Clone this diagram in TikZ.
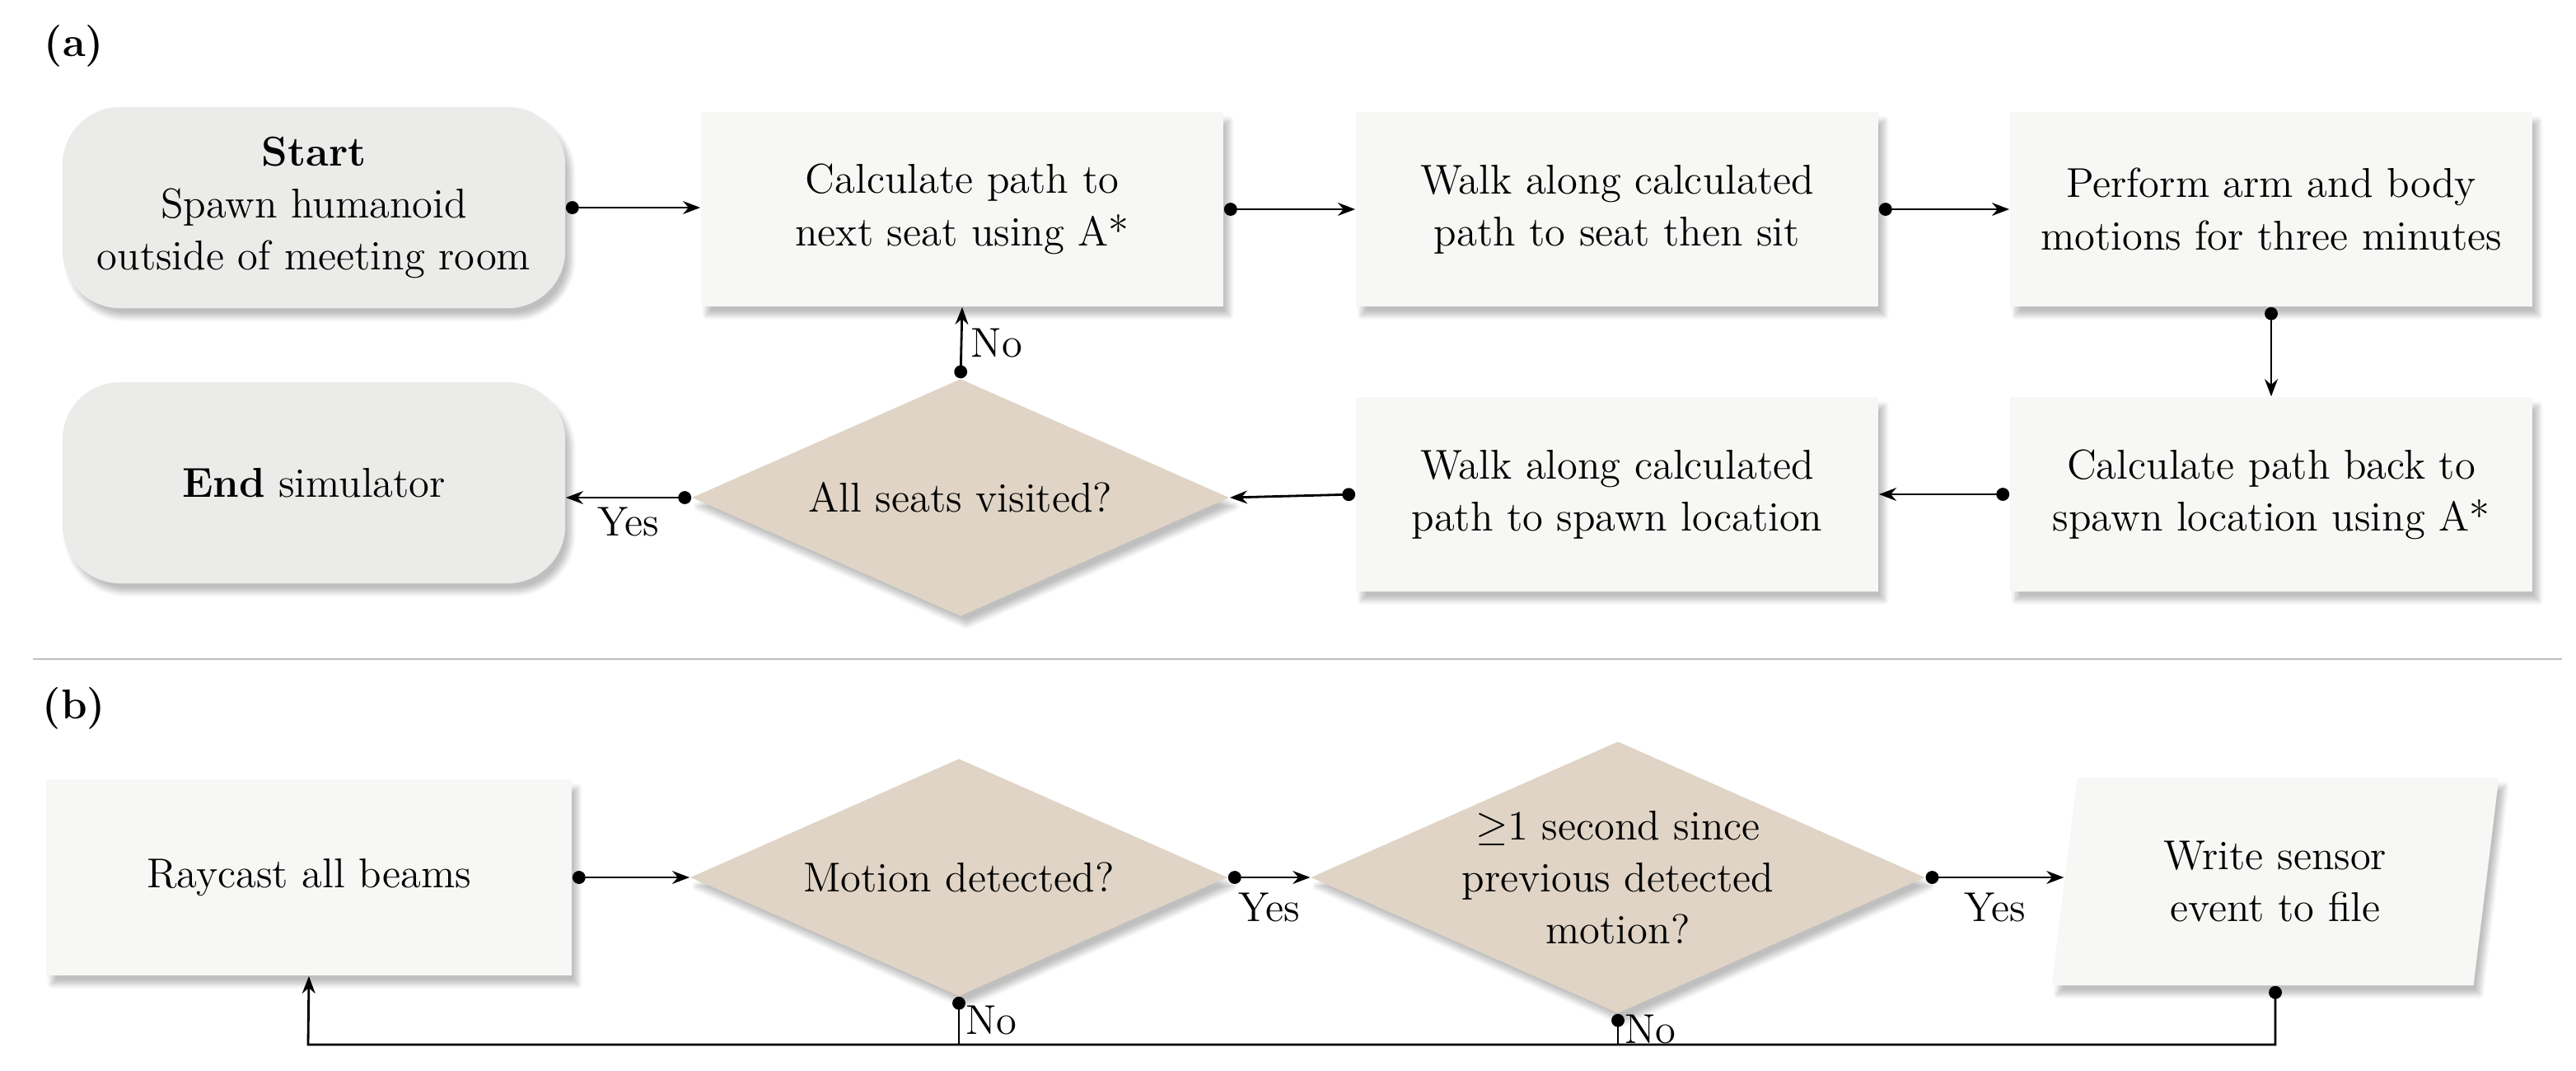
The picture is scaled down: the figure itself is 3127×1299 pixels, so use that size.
\documentclass[tikz,border=0pt]{standalone}
\usetikzlibrary{shapes.geometric,shadows.blur,arrows.meta}
\definecolor{boxc}{HTML}{F7F7F5}
\definecolor{termc}{HTML}{EBEBEA}
\definecolor{decc}{HTML}{DFD4C5}
\begin{document}
\begin{tikzpicture}[x=0.01cm,y=-0.01cm,font=\Large,
  shd/.style={blur shadow={shadow blur steps=8,shadow xshift=2pt,shadow yshift=-3pt,shadow opacity=25}},
  box/.style={shd,fill=boxc,draw=none,minimum width=6.34cm,minimum height=2.36cm,align=center,inner sep=0pt},
  term/.style={shd,fill=termc,draw=none,rounded corners=0.7cm,minimum width=6.1cm,minimum height=2.44cm,align=center,inner sep=0pt},
  dec/.style={shd,diamond,fill=decc,draw=none,minimum width=6.52cm,minimum height=2.88cm,aspect=2.26,align=center,inner sep=0pt},
  conn/.style={line width=0.8pt,{Circle[length=4.5pt]}-{Stealth[length=6pt]}},
  plain/.style={line width=0.8pt},
  lbl/.style={inner sep=1pt}]
\useasboundingbox (0,0) rectangle (3127,1299);
\node[font=\Large\bfseries] (la) at (90,56) {(a)};
\node[term] (start) at (381,252) {\textbf{Start}\\Spawn humanoid\\outside of meeting room};
\node[box] (calc1) at (1168,254) {Calculate path to\\next seat using A*};
\node[box] (walk1) at (1963,254) {Walk along calculated\\path to seat then sit};
\node[box] (perf) at (2757,254) {Perform arm and body\\motions for three minutes};
\node[box] (back) at (2757,600) {Calculate path back to\\spawn location using A*};
\node[box] (walk2) at (1963,600) {Walk along calculated\\path to spawn location};
\node[dec] (seats) at (1166,604) {All seats visited?};
\node[term] (end) at (381,586) {\textbf{End} simulator};
\draw[conn] (start.east) -- (calc1.west |- start.east);
\draw[conn] (calc1) -- (walk1);
\draw[conn] (walk1) -- (perf);
\draw[conn] (perf) -- (back);
\draw[conn] (back) -- (walk2);
\draw[conn] (walk2.west) -- (seats.east);
\draw[conn] (seats.west) -- (end.east |- seats.west) node[lbl,midway,below=2pt] {Yes};
\draw[conn] (seats.north) -- (calc1.south) node[lbl,midway,right=2pt] {No};
\draw[line width=0.6pt,black!25] (40,800) -- (3110,800);
\node[font=\Large\bfseries] (lb) at (90,860) {(b)};
\node[box,minimum width=6.38cm,minimum height=2.38cm] (ray) at (375,1065) {Raycast all beams};
\node[dec] (d1) at (1164,1065) {Motion detected?};
\node[dec] (d2) at (1964,1065) {$\geq$1 second since\\previous detected\\motion?};
\node[shd,trapezium,trapezium left angle=80,trapezium right angle=100,trapezium stretches=true,
  fill=boxc,draw=none,minimum width=5.44cm,minimum height=2.52cm,align=center,inner sep=0pt] (wr) at (2762,1070) {Write sensor\\event to file};
\coordinate (bl) at (374,1268);
\draw[conn] (ray.east) -- (d1.west);
\draw[conn] (d1.east) -- (d2.west) node[lbl,midway,below=4pt] {Yes};
\draw[conn] (d2.east) -- (wr.west |- d2.east) node[lbl,midway,below=4pt] {Yes};
\draw[conn] (wr.south) |- (bl) -- (ray.south);
\draw[plain,{Circle[length=4.5pt]}-] (d1.south) -- (d1.south |- bl) node[lbl,midway,right=1pt] {No};
\draw[plain,{Circle[length=4.5pt]}-] (d2.south) -- (d2.south |- bl) node[lbl,midway,right=1pt] {No};
\end{tikzpicture}
\end{document}
